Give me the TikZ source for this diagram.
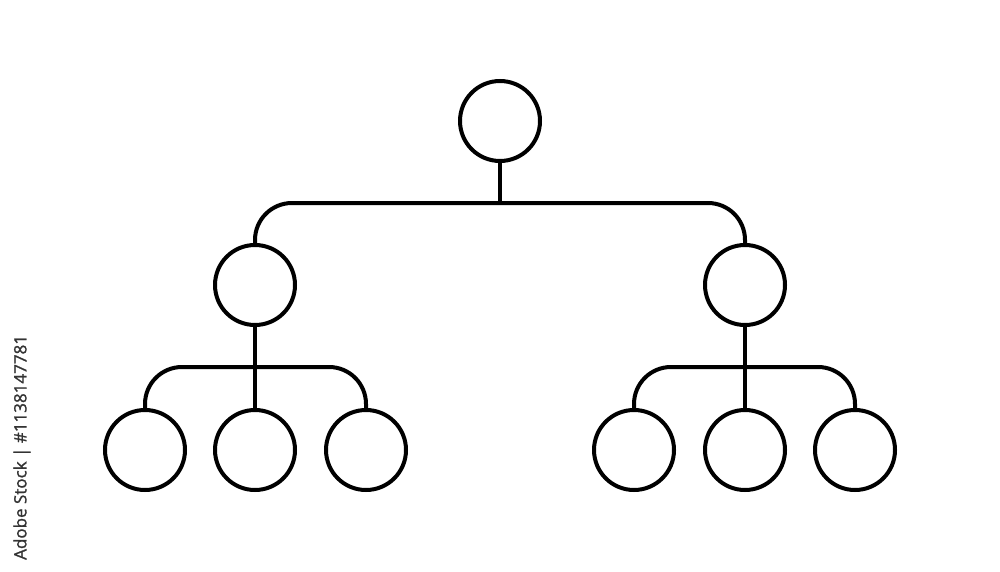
\documentclass[tikz,border=0pt]{standalone}
\usepackage{fontspec}
\setsansfont[FakeBold=1.2]{Open Sans}
\begin{document}
\begin{tikzpicture}[x=1pt,y=-1pt,
  orgnode/.style={circle,draw=black,line width=4pt,minimum size=80pt,inner sep=0pt,fill=white},
  link/.style={draw=black,line width=4pt,rounded corners=37pt}]
\useasboundingbox (0,0) rectangle (1000,572);
\node[orgnode] (top) at (500,121) {};
\node[orgnode] (l) at (255,285) {};
\node[orgnode] (r) at (745,285) {};
\node[orgnode] (l1) at (145,450) {};
\node[orgnode] (l2) at (255,450) {};
\node[orgnode] (l3) at (366,450) {};
\node[orgnode] (r1) at (634,450) {};
\node[orgnode] (r2) at (745,450) {};
\node[orgnode] (r3) at (855,450) {};
\coordinate (bar0) at (500,203);
\coordinate (barl) at (255,367);
\coordinate (barr) at (745,367);
\draw[link] (top.south) -- (top.south |- bar0);
\draw[link] (l.north) |- (bar0) -| (r.north);
\draw[link] (l.south) -- (l2.north);
\draw[link] (l1.north) |- (barl) -| (l3.north);
\draw[link] (r.south) -- (r2.north);
\draw[link] (r1.north) |- (barr) -| (r3.north);
\node[rotate=90,anchor=west,text=black!80,font=\sffamily\fontsize{17}{17}\selectfont,inner sep=0pt] (id) at (22,560) {Adobe Stock | \#1138147781};
\end{tikzpicture}
\end{document}
